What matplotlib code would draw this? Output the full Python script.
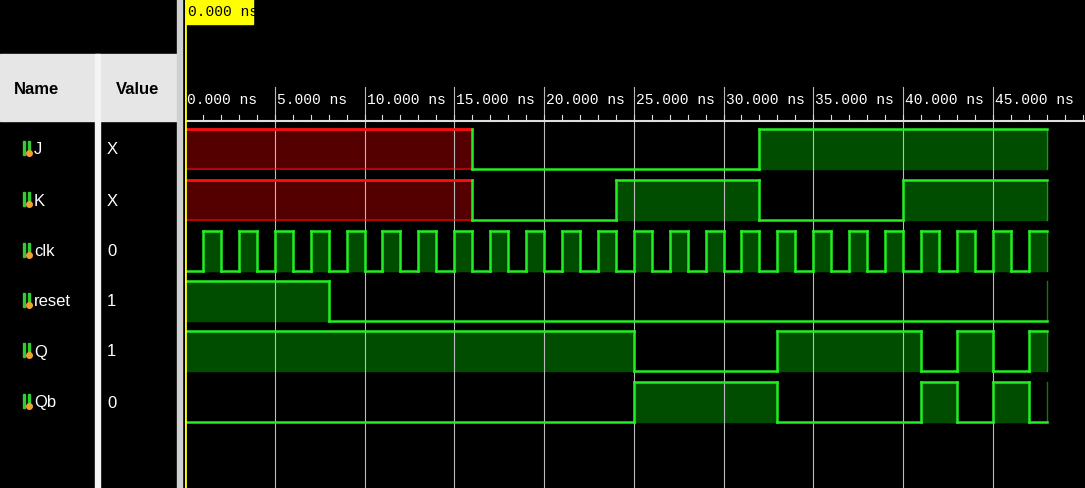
import matplotlib
matplotlib.use("Agg")
import matplotlib.pyplot as plt
from matplotlib.patches import Rectangle
import numpy as np

# ---- data (times in ns, values 0/1, None = X) ----
T_END = 48
signals = ["J", "K", "clk", "reset", "Q", "Qb"]
values = ["X", "X", "0", "1", "1", "0"]

j_times = [0, 16, 32]
j_vals = [None, 0, 1]
k_times = [0, 16, 24, 32, 40]
k_vals = [None, 0, 1, 0, 1]
clk_times = list(range(0, 48))
clk_vals = [i % 2 for i in range(48)]
reset_times = [0, 8]
reset_vals = [1, 0]
q_times = [0, 25, 33, 41, 43, 45, 47]
q_vals = [1, 0, 1, 0, 1, 0, 1]
qb_times = [0, 25, 33, 41, 43, 45, 47]
qb_vals = [0, 1, 0, 1, 0, 1, 0]
waves = [(j_times, j_vals), (k_times, k_vals), (clk_times, clk_vals),
         (reset_times, reset_vals), (q_times, q_vals), (qb_times, qb_vals)]
tick_major = [0, 5, 10, 15, 20, 25, 30, 35, 40, 45]

W, H = 1085, 489
PX_PER_NS = 17.95
X0 = 185
fig = plt.figure(figsize=(W / 100, H / 100), dpi=100, facecolor="black")

sans = "Liberation Sans"
# left panel in pixel coords
axl = fig.add_axes([0, 0, X0 / W, 1])
axl.set_xlim(0, X0)
axl.set_ylim(H, 0)
axl.axis("off")
axl.add_patch(Rectangle((0, 55), 177, 67, color="#e6e6e6"))
axl.add_patch(Rectangle((95, 55), 5, H - 55, color="#f4f4f4"))
axl.add_patch(Rectangle((177, 0), 5, H, color="#d0d0d0"))
axl.text(14, 90, "Name", ha="left", va="center", fontsize=12, fontweight="bold",
         family=sans, color="black")
axl.text(116, 90, "Value", ha="left", va="center", fontsize=12, fontweight="bold",
         family=sans, color="black")

row_hi = np.array([130, 181, 232, 282, 332, 383])
row_lo = row_hi + 40
for i, (name, val) in enumerate(zip(signals, values)):
    yc = (row_hi[i] + row_lo[i]) / 2
    axl.add_patch(Rectangle((23, yc - 8), 2, 14, color="#33cc33"))
    axl.add_patch(Rectangle((28, yc - 8), 2, 14, color="#33cc33"))
    axl.plot([29], [yc + 4], "o", color="#f0a030", ms=4)
    axl.text(34, yc, name, color="white", ha="left", va="center", fontsize=12,
             family=sans)
    axl.text(107, yc, val, color="white", ha="left", va="center", fontsize=12,
             family=sans)

# waveform panel: x in ns, y in pixels
ax = fig.add_axes([X0 / W, 0, 1 - X0 / W, 1])
ax.set_facecolor("black")
ax.set_xlim(0, (W - X0) / PX_PER_NS)
ax.set_ylim(H, 0)
ax.axis("off")

mono = "Liberation Mono"
for t in tick_major:
    ax.plot([t, t], [88, H], color="#bbbbbb", lw=0.8)
    ax.text(t + 0.12, 100, f"{t:.3f} ns", color="white", fontsize=10.5, family=mono,
            va="center", ha="left")
minor = np.arange(0, 50.1, 1.0)
for t in minor:
    ax.plot([t, t], [116, 122], color="#dddddd", lw=0.8)
ax.plot([0, 50.2], [122, 122], color="#dddddd", lw=1.5)

green, gfill = "#22ee22", "#004d00"
red, rfill = "#ff1010", "#550000"
for i, (times, vals) in enumerate(waves):
    hi, lo = row_hi[i], row_lo[i]
    edges = list(times) + [T_END]
    for k, v in enumerate(vals):
        a, b = edges[k], edges[k + 1]
        if v is None:
            ax.fill_between([a, b], hi, lo, color=rfill)
            ax.plot([a, b], [hi, hi], color=red, lw=2)
            ax.plot([a, b], [lo, lo], color=red, lw=1.2, alpha=0.6)
        else:
            y = hi if v else lo
            if v:
                ax.fill_between([a, b], hi, lo, color=gfill)
            ax.plot([a, b], [y, y], color=green, lw=1.8)
        if k > 0:
            ax.plot([a, a], [hi, lo], color=green if v is not None else red, lw=1.8)
    ax.plot([T_END, T_END], [hi, lo], color=green, lw=1.0, alpha=0.5)

# cursor
ax.plot([0, 0], [0, H], color="#ffff00", lw=2)
ax.add_patch(Rectangle((0, 0), 68 / PX_PER_NS, 25, color="#ffff00"))
ax.text(0.15, 12, "0.000 ns", color="black", fontsize=10.5, family=mono, va="center")

fig.savefig("out.png", dpi=100, facecolor="black")
